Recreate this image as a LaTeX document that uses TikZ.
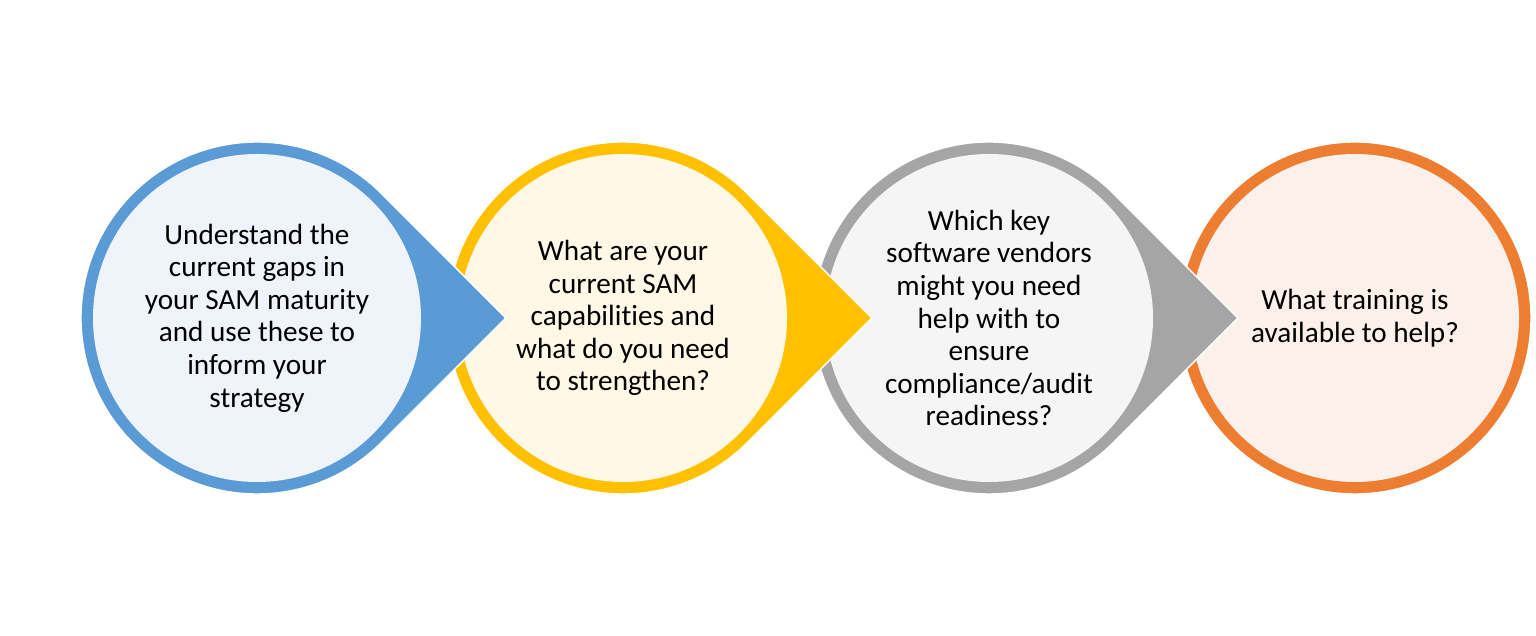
\documentclass[tikz,border=0pt]{standalone}
\usepackage{fontspec}
\setmainfont{Carlito}[Ligatures=NoCommon]
\definecolor{blueline}{HTML}{5B9BD5}
\definecolor{bluefill}{HTML}{EFF4FB}
\definecolor{goldline}{HTML}{FFC000}
\definecolor{goldfill}{HTML}{FFF8E6}
\definecolor{greyline}{HTML}{A5A5A5}
\definecolor{greyfill}{HTML}{F5F5F5}
\definecolor{orangeline}{HTML}{ED7D31}
\definecolor{orangefill}{HTML}{FCF0EA}
\begin{document}
\begin{tikzpicture}[x=0.5pt,y=0.5pt,
		drop/.style={draw=white,line width=0.7pt},
		question/.style={align=center,text=black,font=\fontsize{14.6}{16.3}\selectfont}]
			\useasboundingbox (0,0) rectangle (1536,636);
			\fill[white] (0,0) rectangle (1536,636);
			\filldraw[drop,fill=orangeline] (1355,318) circle[radius=176];
			\fill[orangefill] (1355,318) circle[radius=164];
			\node[question] (training) at (1355,318) {What training is\\available to help?};
			\filldraw[drop,fill=greyline] (989,318) ++(45:176) arc[start angle=45,end angle=315,radius=176] -- (1237.9,318) -- cycle;
			\fill[greyfill] (989,318) circle[radius=164];
			\node[question] (vendors) at (989,318) {Which key\\software vendors\\might you need\\help with to\\ensure\\compliance/audit\\readiness?};
			\filldraw[drop,fill=goldline] (623,318) ++(45:176) arc[start angle=45,end angle=315,radius=176] -- (871.9,318) -- cycle;
			\fill[goldfill] (623,318) circle[radius=164];
			\node[question] (capabilities) at (623,318) {What are your\\current SAM\\capabilities and\\what do you need\\to strengthen?};
			\filldraw[drop,fill=blueline] (257,318) ++(45:176) arc[start angle=45,end angle=315,radius=176] -- (505.9,318) -- cycle;
			\fill[bluefill] (257,318) circle[radius=164];
			\node[question] (gaps) at (257,318) {Understand the\\current gaps in\\your SAM maturity\\and use these to\\inform your\\strategy};
		\end{tikzpicture}
\end{document}
